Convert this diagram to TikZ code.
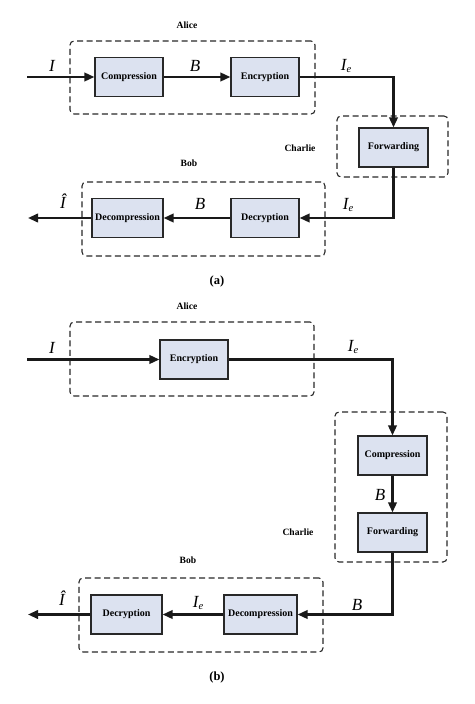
\documentclass[tikz,border=0pt]{standalone}
\usepackage{fontspec}
\setmainfont{Liberation Serif}
\usetikzlibrary{arrows.meta}
\definecolor{boxfill}{RGB}{220,226,240}
\definecolor{edge}{RGB}{40,40,40}
\begin{document}
\begin{tikzpicture}[x=1pt,y=-1pt,
  blk/.style={draw=edge,fill=boxfill,line width=1.2pt,minimum height=39pt,inner sep=0pt,font=\fontsize{10}{11}\selectfont\bfseries},
  grp/.style={draw=edge,dash pattern=on 6pt off 3.5pt,line width=1.1pt,rounded corners=4pt,inner sep=0pt},
  flow/.style={draw=black!90,line width=2.2pt,-{Triangle[length=10pt,width=8.5pt]}},
  who/.style={font=\fontsize{9.6}{10}\selectfont\bfseries},
  sym/.style={font=\fontsize{17}{17}\selectfont\itshape},
  figcap/.style={font=\fontsize{12.5}{13}\selectfont\bfseries}]
\useasboundingbox (0,0) rectangle (474,704);
% ---------- (a) ----------
\node[who] (aliceA) at (187,25) {Alice};
\node[grp,minimum width=245pt,minimum height=73pt] (aliceboxA) at (192.5,77.5) {};
\node[blk,minimum width=68pt] (compA) at (129,77) {Compression};
\node[blk,minimum width=68pt] (encA) at (265,77) {Encryption};
\node[grp,minimum width=111pt,minimum height=61pt] (charlieboxA) at (392.5,146.5) {};
\node[blk,minimum width=69pt] (forwA) at (393.5,147.5) {Forwarding};
\node[who] (charlieA) at (300,148) {Charlie};
\node[who] (bobA) at (189,163) {Bob};
\node[grp,minimum width=243pt,minimum height=74pt] (bobboxA) at (203.5,219) {};
\node[blk,minimum width=71pt] (decompA) at (127.5,218) {Decompression};
\node[blk,minimum width=68pt] (decrA) at (265,218) {Decryption};
\coordinate (inA) at (27,77);
\coordinate (outA) at (28,218);
\draw[flow] (inA) -- (compA.west);
\draw[flow] (compA) -- (encA);
\draw[flow] (encA.east) -| (forwA.north);
\draw[flow] (forwA.south) |- (decrA.east);
\draw[flow] (decrA) -- (decompA);
\draw[flow] (decompA.west) -- (outA);
\node[sym] (lIA) at (52,66) {I};
\node[sym] (lBA) at (195,66) {B};
\node[sym] (lIeA) at (346,66) {I\raisebox{-0.35ex}{\fontsize{10.5}{10}\selectfont e}};
\node[sym] (lIe2A) at (348,205) {I\raisebox{-0.35ex}{\fontsize{10.5}{10}\selectfont e}};
\node[sym] (lB2A) at (200,204) {B};
\node[sym] (lhatA) at (63,201) {Î};
\node[figcap] (capA) at (217,281) {(a)};
% ---------- (b) ----------
\node[who] (aliceB) at (187,306) {Alice};
\node[grp,minimum width=244pt,minimum height=74pt] (aliceboxB) at (192,359) {};
\node[blk,minimum width=68pt] (encB) at (194,359.5) {Encryption};
\node[grp,minimum width=112pt,minimum height=150pt] (charlieboxB) at (391,487) {};
\node[blk,minimum width=69pt] (compB) at (392.5,455.5) {Compression};
\node[blk,minimum width=69pt] (forwB) at (392.5,532.5) {Forwarding};
\node[who] (charlieB) at (298,532) {Charlie};
\node[who] (bobB) at (188,560) {Bob};
\node[grp,minimum width=244pt,minimum height=74pt] (bobboxB) at (201,615) {};
\node[blk,minimum width=71pt] (decrB) at (126.5,614.5) {Decryption};
\node[blk,minimum width=73pt] (decompB) at (260.5,614.5) {Decompression};
\coordinate (inB) at (27,359.5);
\coordinate (outB) at (28,614.5);
\draw[flow] (inB) -- (encB.west);
\draw[flow] (encB.east) -| (compB.north);
\draw[flow] (compB) -- (forwB);
\draw[flow] (forwB.south) |- (decompB.east);
\draw[flow] (decompB) -- (decrB);
\draw[flow] (decrB.west) -- (outB);
\node[sym] (lIB) at (52,348) {I};
\node[sym] (lIeB) at (353,347) {I\raisebox{-0.35ex}{\fontsize{10.5}{10}\selectfont e}};
\node[sym] (lB1B) at (380,495) {B};
\node[sym] (lB2B) at (357,605) {B};
\node[sym] (lIe2B) at (198,603) {I\raisebox{-0.35ex}{\fontsize{10.5}{10}\selectfont e}};
\node[sym] (lhatB) at (62,598) {Î};
\node[figcap] (capB) at (217,677) {(b)};
\end{tikzpicture}
\end{document}
